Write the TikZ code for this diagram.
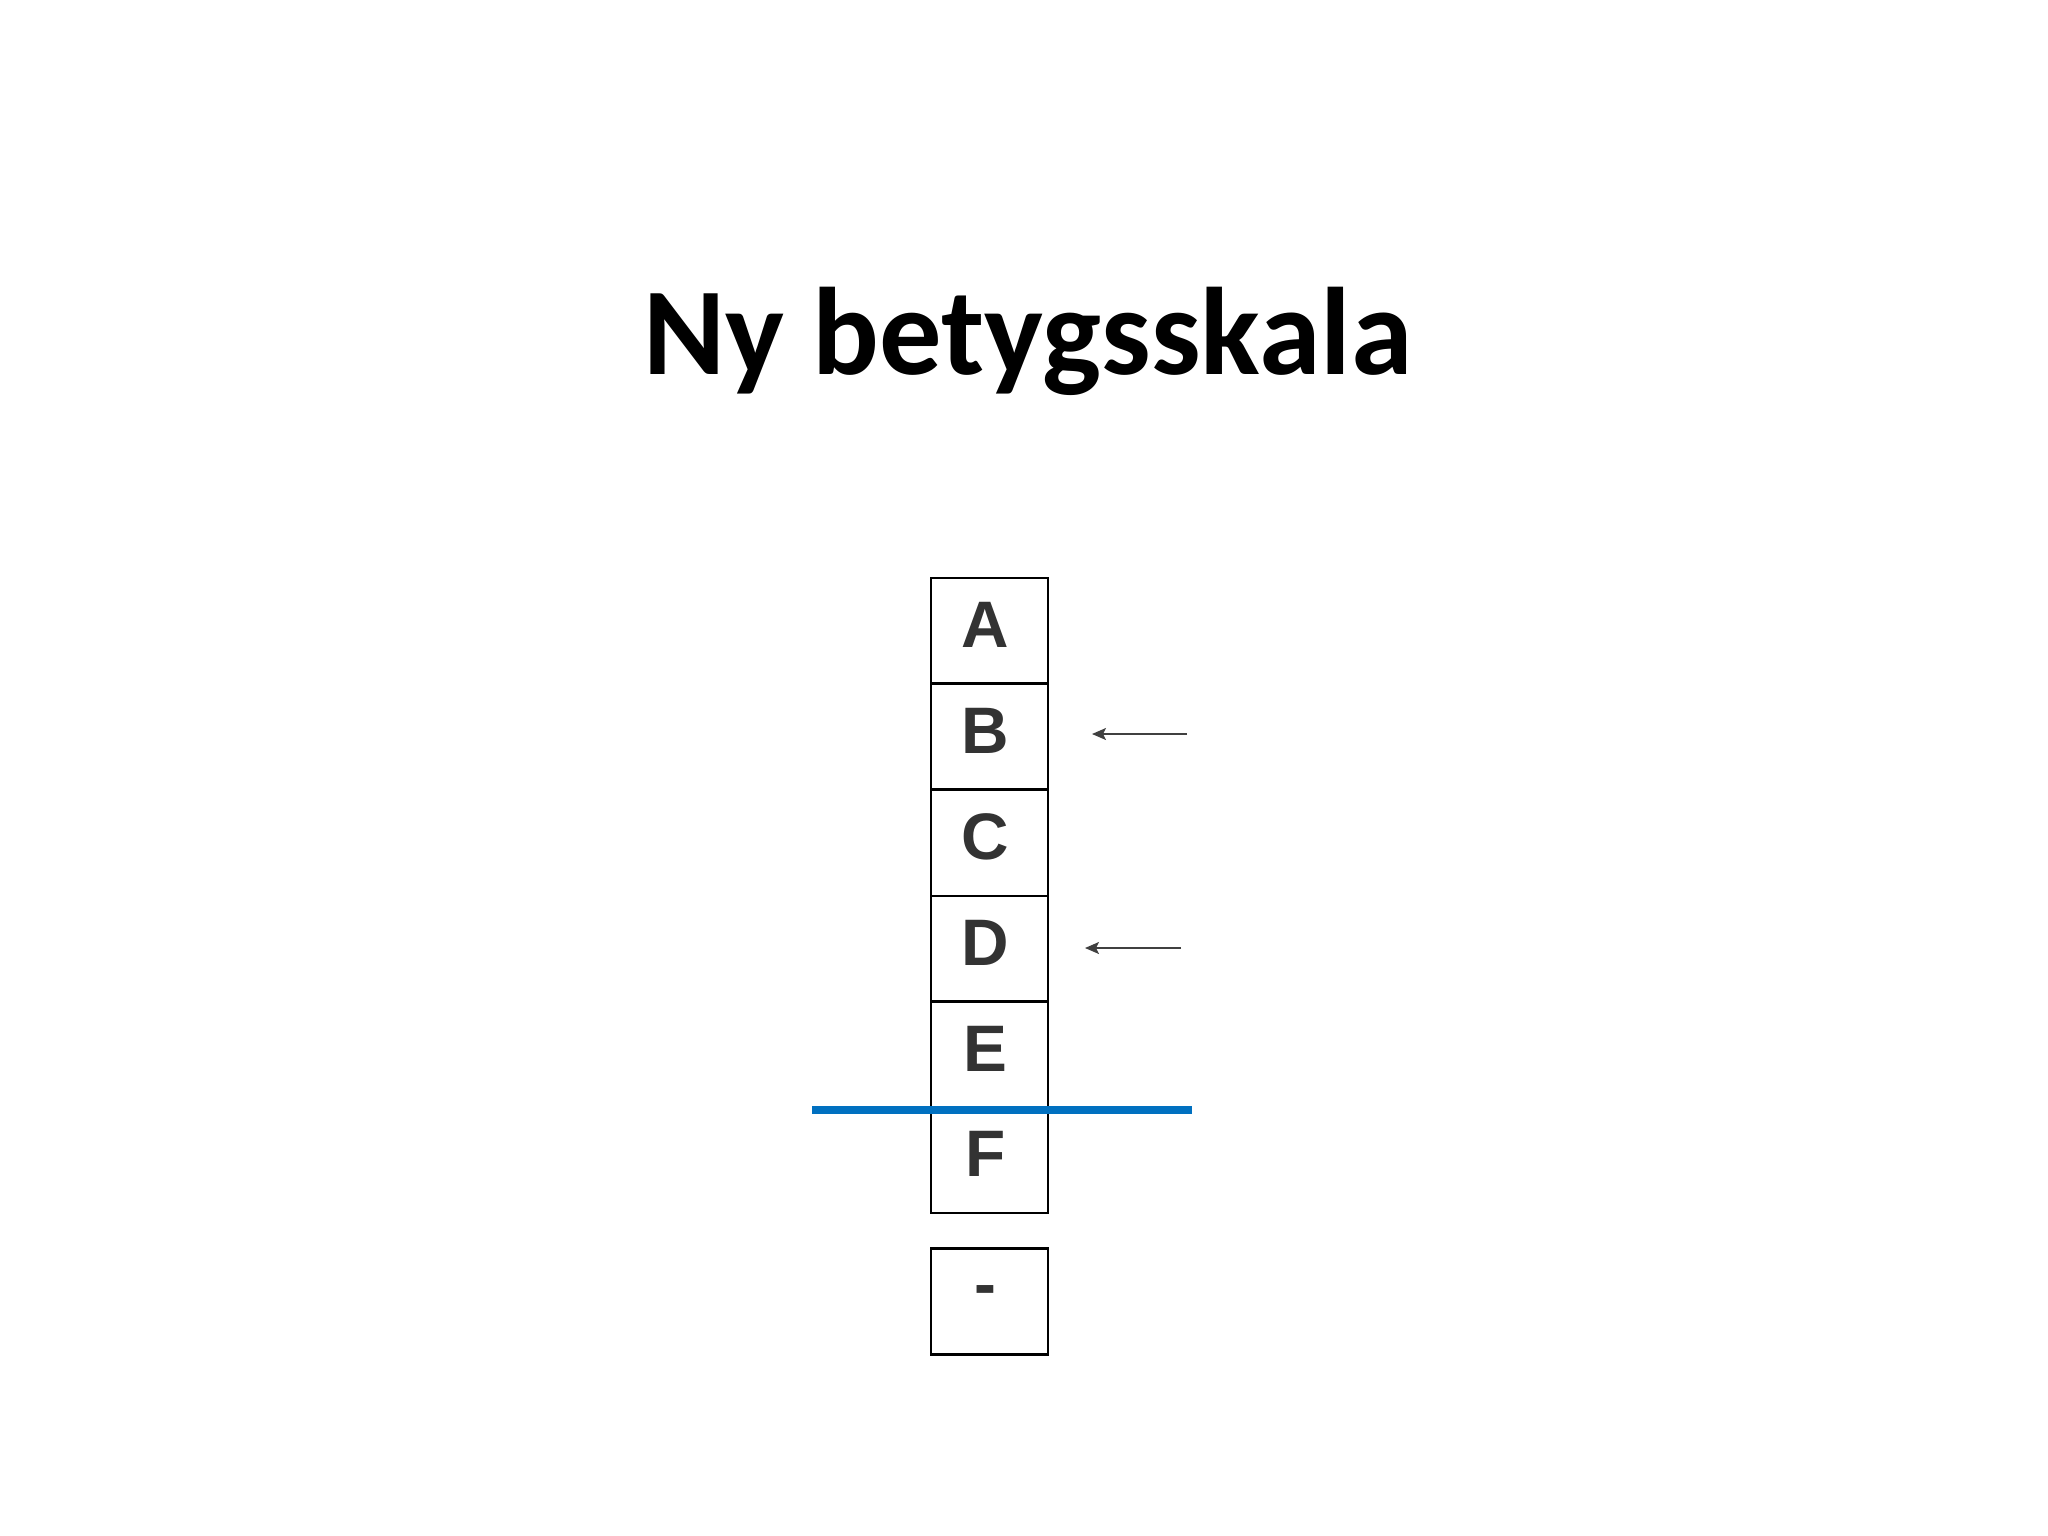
\documentclass[tikz,border=0pt]{standalone}
\usepackage{fontspec}
\setmainfont{Carlito}
\newfontfamily\gradefont{Liberation Sans}
\usetikzlibrary{arrows.meta}
\definecolor{passblue}{HTML}{0070C0}

\begin{document}
\begin{tikzpicture}[x=0.01cm,y=-0.01cm,
        grade/.style={draw,rectangle,line width=0.6pt,minimum width=1.17cm,minimum height=1.06cm,
            font=\gradefont\fontsize{18.7}{20}\selectfont\bfseries,text=black!80,
            text depth=0.12cm,execute at end node={\kern0.08cm}},
        pointer/.style={-{Stealth[length=0.14cm,width=0.12cm,inset=0.03cm]},line width=0.5pt,draw=black!75},
        passline/.style={line width=0.075cm,draw=passblue}]
        \useasboundingbox (0,0) rectangle (2048,1536);

        \node[anchor=base,font=\fontsize{35.4}{40}\selectfont\bfseries] (title) at (1028,374) {Ny betygsskala};

        \node[grade] (gradeA) at (989.5,631) {A};
        \node[grade] (gradeB) at (989.5,736.5) {B};
        \node[grade] (gradeC) at (989.5,843) {C};
        \node[grade] (gradeD) at (989.5,949) {D};
        \node[grade] (gradeE) at (989.5,1054.5) {E};
        \node[grade] (gradeF) at (989.5,1160) {F};

        \node[grade] (gradeNone) at (989.5,1301.5) {-};

        \coordinate (tailB) at (1187,734);
        \coordinate (tipB) at (1092,734);
        \coordinate (tailD) at (1181,948);
        \coordinate (tipD) at (1085,948);
        \draw[pointer] (tailB) -- (tipB);
        \draw[pointer] (tailD) -- (tipD);

        \coordinate (passW) at (812,1110);
        \coordinate (passE) at (1192,1110);
        \draw[passline] (passW) -- (passE);
    \end{tikzpicture}
\end{document}
